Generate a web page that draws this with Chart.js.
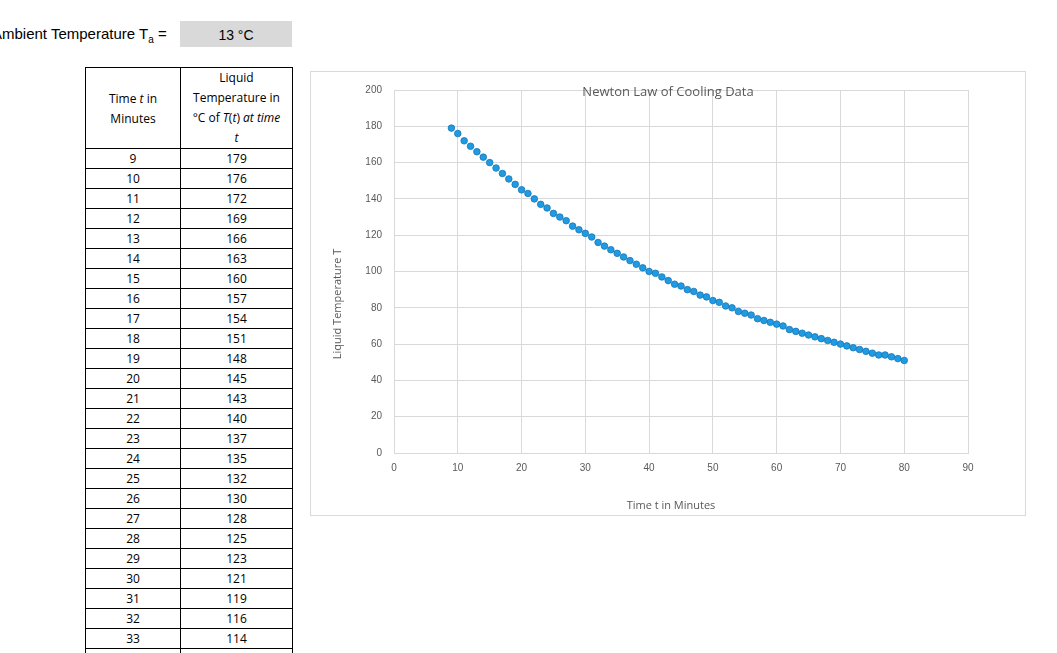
<!DOCTYPE html>
<html>
<head>
<meta charset="utf-8">
<script src="https://cdn.jsdelivr.net/npm/chart.js@4"></script>
<style>
  html, body { margin: 0; padding: 0; background: #fff; overflow: hidden; width: 1057px; height: 653px; }
  body { position: relative; font-family: "Liberation Sans", Arial, sans-serif; }
  .ambient { position: absolute; left: -8px; top: 25px; font-size: 15px; color: #000; }
  .ambient-val { position: absolute; left: 180px; top: 21px; width: 112px; height: 26px; background: #d9d9d9;
    text-align: center; line-height: 28px; font-size: 14px; }
  table { position: absolute; left: 85px; top: 67px; border-collapse: collapse; font-family: "Open Sans", sans-serif; font-size: 12px; }
  td { border: 1px solid #000; height: 19px; padding: 0; text-align: center; }
  td.c1 { width: 94px; }
  td.c2 { width: 111px; }
  tr.head td { height: 80px; line-height: 20px; vertical-align: top; }
  .chart-box { position: absolute; left: 310px; top: 71px; width: 714px; height: 443px; border: 1px solid #d9d9d9; }
</style>
</head>
<body>
<div class="ambient">Ambient Temperature T<sub style="font-size:10px">a</sub> =</div>
<div class="ambient-val">13 °C</div>
<table id="tbl">
  <tr class="head">
    <td class="c1"><div style="padding-top:21px">Time <i>t</i> in<br>Minutes</div></td>
    <td class="c2">Liquid<br>Temperature in<br>°C of <i>T</i>(<i>t</i>) <i>at time</i><br><i>t</i></td>
  </tr>
</table>
<div class="chart-box"><canvas id="chart" width="714" height="443"></canvas></div>
<script>
  // Time in minutes and liquid temperature (°C)
  const times = [];
  for (let t = 9; t <= 80; t++) times.push(t);
  const temps = [179, 176, 172, 169, 166, 163, 160, 157, 154, 151, 148, 145, 143, 140, 137, 135,
    132, 130, 128, 125, 123, 121, 119, 116, 114, 112, 110, 108, 106, 104, 102, 100, 99, 97, 95,
    93, 92, 90, 89, 87, 86, 84, 83, 81, 80, 78, 77, 76, 74, 73, 72, 71, 70, 68, 67, 66, 65, 64,
    63, 62, 61, 60, 59, 58, 57, 56, 55, 54, 54, 53, 52, 51];

  const tbl = document.getElementById('tbl');
  times.forEach(function (t, i) {
    const tr = document.createElement('tr');
    tr.innerHTML = '<td class="c1">' + t + '</td><td class="c2">' + temps[i] + '</td>';
    tbl.appendChild(tr);
  });

  // Title and axis titles drawn at fixed spots like the spreadsheet chart.
  const labelsPlugin = {
    id: 'labels',
    afterDraw: function (chart) {
      const ctx = chart.ctx;
      ctx.save();
      ctx.fillStyle = '#595959';
      ctx.textAlign = 'center';
      ctx.textBaseline = 'middle';
      ctx.font = '13px "Open Sans", sans-serif';
      ctx.fillText('Newton Law of Cooling Data', 357, 20);
      ctx.font = '11px "Open Sans", sans-serif';
      ctx.fillText('Time t in Minutes', 360, 434);
      ctx.translate(27, 232);
      ctx.rotate(-Math.PI / 2);
      ctx.fillText('Liquid Temperature T', 0, 0);
      ctx.restore();
    }
  };

  new Chart(document.getElementById('chart'), {
    type: 'scatter',
    data: {
      datasets: [{
        data: times.map((t, i) => ({ x: t, y: temps[i] })),
        backgroundColor: '#1f9be3',
        borderColor: '#1676b8',
        borderWidth: 0.8,
        pointRadius: 3.3
      }]
    },
    options: {
      responsive: false,
      animation: false,
      layout: { padding: { top: -7, right: 57, left: 0, bottom: 0 } },
      plugins: { legend: { display: false }, tooltip: { enabled: false } },
      scales: {
        x: {
          min: 0, max: 90,
          ticks: { stepSize: 10, color: '#595959', font: { size: 10 }, maxRotation: 0, padding: 9 },
          grid: { color: '#d9d9d9', drawTicks: false },
          border: { color: '#d9d9d9' },
          afterFit: function (s) { s.height = 62; }
        },
        y: {
          min: 0, max: 200,
          ticks: { stepSize: 20, color: '#595959', font: { size: 10 }, padding: 12 },
          grid: { color: '#d9d9d9', drawTicks: false },
          border: { display: false },
          afterFit: function (s) { s.width = 83; }
        }
      }
    },
    plugins: [labelsPlugin]
  });
</script>
</body>
</html>
